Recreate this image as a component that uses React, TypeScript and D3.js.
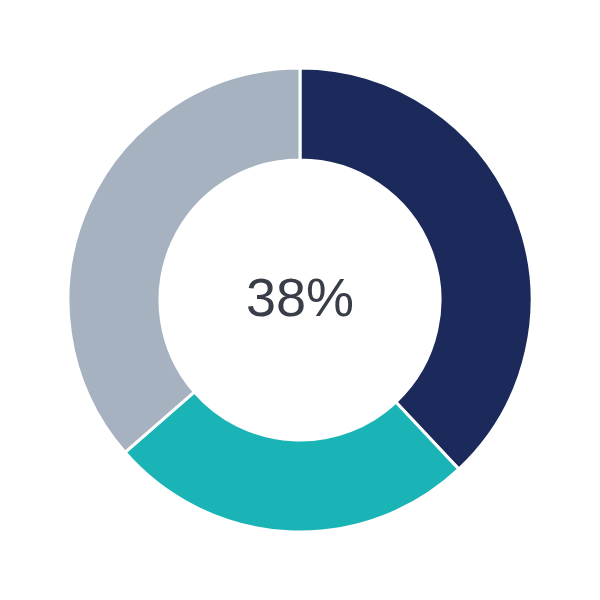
import * as d3 from "d3";

const labels = ["Navy", "Teal", "Gray"];
const values = [38, 25.6, 36.4];
const colors = ["#1b2a5a", "#1ab4b6", "#a7b2c1"];
const centerLabel = "38%";

function App() {
    const width = 600;
    const height = 600;
    const outer = 232;
    const inner = 140;

    const pie = d3.pie<number>().sort(null).value(d => d);
    const arc = d3.arc<d3.PieArcDatum<number>>().innerRadius(inner).outerRadius(outer);
    const arcs = pie(values);

    return (
        <div style={{ position: "fixed", top: 0, left: 0 }}>
            <svg width={width} height={height} style={{ display: "block", background: "white" }}>
                <g transform={`translate(${width / 2},${height / 2})`}>
                    {arcs.map((a, i) => (
                        <path key={labels[i]} d={arc(a) || ""} fill={colors[i]} stroke="white" strokeWidth={3} />
                    ))}
                    <text
                        x={0}
                        y={-3}
                        dy="0.35em"
                        textAnchor="middle"
                        fill="#383d48"
                        fontSize={54}
                        fontFamily="'Liberation Sans', Arial, sans-serif"
                    >
                        {centerLabel}
                    </text>
                </g>
            </svg>
        </div>
    );
}

export default App;
